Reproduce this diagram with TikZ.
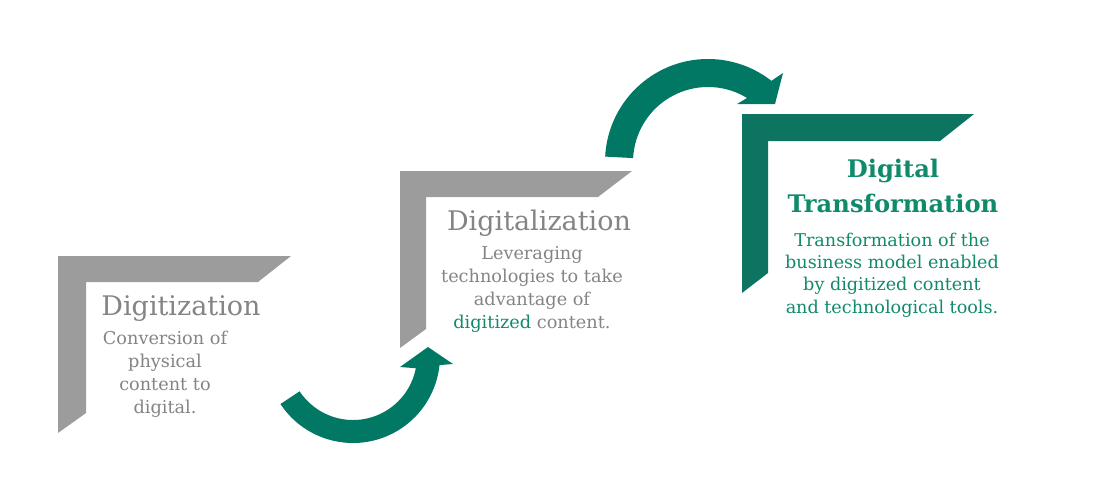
\documentclass[tikz,border=0pt]{standalone}
\usepackage{fontspec}
\setmainfont{DejaVu Serif}
\definecolor{shapegray}{HTML}{9C9C9C}
\definecolor{textgray}{HTML}{848484}
\definecolor{arrowgreen}{HTML}{017864}
\definecolor{boxgreen}{HTML}{0D7462}
\definecolor{textgreen}{HTML}{0F8A6B}
\begin{document}
\begin{tikzpicture}[x=1pt,y=1pt,
  titlefont/.style={font=\fontsize{27}{30}\selectfont, text=textgray, inner sep=0pt},
  bodyfont/.style={font=\fontsize{17.7}{23}\selectfont, text=textgray, align=center, inner sep=0pt},
  dttitle/.style={font=\bfseries\fontsize{24.2}{35}\selectfont, text=textgreen, align=center, inner sep=0pt},
  dtbody/.style={font=\fontsize{17.6}{22.2}\selectfont, text=textgreen, align=center, inner sep=0pt}]
\useasboundingbox (0,0) rectangle (1116,-498);
% brackets
\fill[shapegray] (58,-256) -- (291,-256) -- (258,-282) -- (86,-282) -- (86,-413) -- (58,-433) -- cycle;
\fill[shapegray] (400,-171) -- (632,-171) -- (598,-197) -- (426,-197) -- (426,-329) -- (400,-348) -- cycle;
\fill[boxgreen] (742,-114) -- (974,-114) -- (940,-141) -- (768,-141) -- (768,-273) -- (742,-293) -- cycle;
% arrows
\fill[arrowgreen] ([shift={(353,-356)}]213.5:87) arc[start angle=213.5, end angle=354, radius=87]
  -- (453,-364) -- (428,-347) -- (400,-367) -- ([shift={(353,-356)}]349:64)
  arc[start angle=349, end angle=213.5, radius=64] -- cycle;
\fill[arrowgreen] ([shift={(708,-162)}]177:103) arc[start angle=177, end angle=52, radius=103]
  -- (783,-73) -- (775,-104) -- (737,-104) -- ([shift={(708,-162)}]58.6:75)
  arc[start angle=58.6, end angle=177, radius=75] -- cycle;
% texts (multi-line nodes: base = last line)
\node[titlefont, anchor=base] (t1) at (181,-315) {Digitization};
\node[bodyfont, anchor=base] (b1) at (165,-413) {Conversion of\\physical\\content to\\digital.};
\node[titlefont, anchor=base] (t2) at (539,-230) {Digitalization};
\node[bodyfont, anchor=base, font=\fontsize{17.7}{22.7}\selectfont] (b2) at (532,-328) {Leveraging\\technologies to take\\advantage of\\{\color{textgreen}digitized} content.};
\node[dttitle, anchor=base] (t3) at (893,-212) {Digital\\Transformation};
\node[dtbody, anchor=base] (b3) at (892,-313) {Transformation of the\\business model enabled\\by digitized content\\and technological tools.};
\end{tikzpicture}
\end{document}
